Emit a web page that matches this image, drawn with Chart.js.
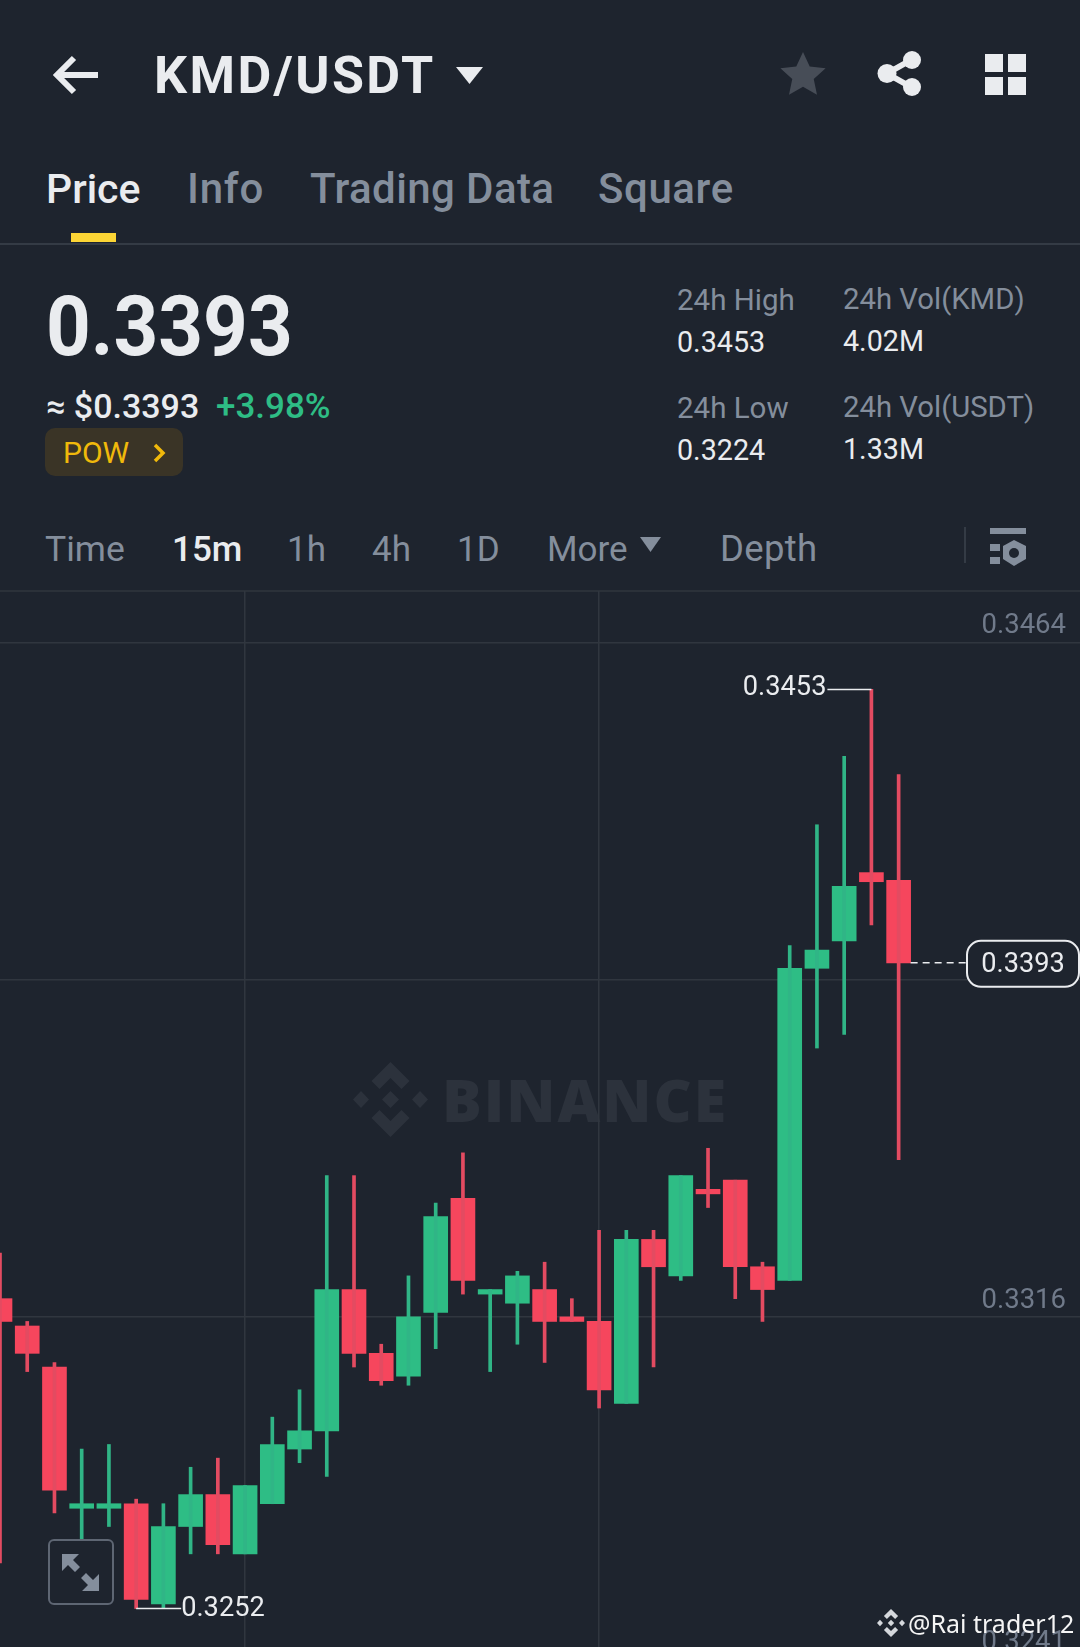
<!DOCTYPE html>
<html><head><meta charset="utf-8">
<script src="https://cdn.jsdelivr.net/npm/chart.js@4"></script>
<style>
html,body{margin:0;padding:0;background:#1e242e;width:1080px;height:1647px;overflow:hidden;font-family:Roboto,sans-serif}
.t{position:absolute;white-space:nowrap;line-height:1;transform:translateY(-50%)}
.g{color:#848e9c}.w{color:#eaecef}
#wrap{position:absolute;left:0;top:591px;width:1080px;height:1100px}
svg{position:absolute;overflow:visible}
.r{position:absolute}
</style></head><body>
<!-- header -->
<svg style="left:52px;top:55px" width="48" height="40" viewBox="0 0 48 40"><path d="M22 3 5 20l17 17M6 20h40" fill="none" stroke="#eaecef" stroke-width="6"/></svg>
<div class="t w" style="left:154px;top:76px;font-size:52px;font-weight:700;letter-spacing:2.400px">KMD/USDT</div>
<svg style="left:455px;top:65px" width="29" height="20"><path d="M1 2h27L14.500 19z" fill="#eaecef"/></svg>
<svg style="left:780px;top:51px" width="46" height="46" viewBox="0 0 24 24"><path d="M12 .5l3.500 7.600 8.300.9-6.200 5.600 1.700 8.200L12 18.600l-7.300 4.200 1.700-8.200L.2 9l8.300-.9z" fill="#474d57"/></svg>
<svg style="left:877px;top:50px" width="45" height="47" viewBox="0 0 45 47"><path d="M34 10 10 23.500 34 37" fill="none" stroke="#eaecef" stroke-width="6"/><circle cx="35" cy="10" r="9" fill="#eaecef"/><circle cx="10" cy="23.500" r="9.500" fill="#eaecef"/><circle cx="35" cy="37" r="9" fill="#eaecef"/></svg>
<svg style="left:985px;top:54px" width="42" height="42"><path d="M0 0h18v18H0zM23 0h18v18H23zM0 23h18v18H0zM23 23h18v18H23z" fill="#eaecef"/></svg>

<div class="t w" style="left:46px;top:189px;font-size:41px;font-weight:500">Price</div>
<div class="t g" style="left:187px;top:189px;font-size:42px;font-weight:500;letter-spacing:.8px">Info</div>
<div class="t g" style="left:310px;top:189px;font-size:42px;font-weight:500;letter-spacing:.4px">Trading Data</div>
<div class="t g" style="left:598px;top:189px;font-size:42px;font-weight:500;letter-spacing:.6px">Square</div>
<div class="r" style="left:71px;top:233px;width:45px;height:9px;background:#fcd535"></div>
<div class="r" style="left:0;top:243px;width:1080px;height:2px;background:#343b45"></div>

<div class="t w" style="left:46px;top:327px;font-size:84px;font-weight:700;transform:translateY(-50%) scaleX(.93);transform-origin:left center">0.3393</div>
<div class="t w" style="left:46px;top:406px;font-size:34px;font-weight:500">≈ $0.3393</div>
<div class="t" style="left:216px;top:406px;font-size:35px;font-weight:500;color:#2ebd85">+3.98%</div>
<div class="r" style="left:45px;top:428px;width:138px;height:48px;background:#3a3426;border-radius:10px"></div>
<div class="t" style="left:63px;top:453px;font-size:30px;color:#f0b90b">POW</div>
<svg style="left:152px;top:442px" width="14" height="22"><path d="M3 3l8 8-8 8" fill="none" stroke="#f0b90b" stroke-width="3.500"/></svg>

<div class="t g" style="left:677px;top:301px;font-size:29.500px">24h High</div>
<div class="t w" style="left:677px;top:342px;font-size:28.700px">0.3453</div>
<div class="t g" style="left:843px;top:300px;font-size:29.300px">24h Vol(KMD)</div>
<div class="t w" style="left:843px;top:341px;font-size:28.700px">4.02M</div>
<div class="t g" style="left:677px;top:409px;font-size:29.500px">24h Low</div>
<div class="t w" style="left:677px;top:450px;font-size:28.700px">0.3224</div>
<div class="t g" style="left:843px;top:408px;font-size:29.300px">24h Vol(USDT)</div>
<div class="t w" style="left:843px;top:449px;font-size:28.700px">1.33M</div>

<div class="t g" style="left:45px;top:550px;font-size:35.500px">Time</div>
<div class="t w" style="left:172px;top:549px;font-size:35px;font-weight:500">15m</div>
<div class="t g" style="left:287px;top:549px;font-size:35px">1h</div>
<div class="t g" style="left:372px;top:549px;font-size:35px">4h</div>
<div class="t g" style="left:457px;top:549px;font-size:35px">1D</div>
<div class="t g" style="left:547px;top:549px;font-size:35px">More</div>
<svg style="left:640px;top:537px" width="21" height="15"><path d="M0 0h21L10.500 15z" fill="#848e9c"/></svg>
<div class="t g" style="left:720px;top:549px;font-size:36.500px;letter-spacing:.3px">Depth</div>
<div class="r" style="left:964px;top:527px;width:2px;height:36px;background:#343b45"></div>
<svg style="left:990px;top:528px" width="36" height="38"><path d="M0 0h36v6H0zM0 16h10v7H0zM0 29h10v7H0z" fill="#848e9c"/><path d="M24 12l12 6v13l-12 7-11-7V18z" fill="#848e9c"/><circle cx="24" cy="25" r="5" fill="#1e242e"/></svg>
<div class="r" style="left:0;top:590px;width:1080px;height:2px;background:#2b3139"></div>

<!-- watermark -->
<svg style="left:353px;top:1062px" width="75" height="75" viewBox="0 0 75 75"><g fill="#2c323c"><path d="M37.500 0l19 19-8 8-11-11-11 11-8-8z"/><path d="M37.500 75l19-19-8-8-11 11-11-11-8 8z"/><path d="M8 29l8 8.500-8 8.500-8-8.500zM67 29l8 8.500-8 8.500-8-8.500zM37.500 29l8.500 8.500-8.500 8.500-8.500-8.500z"/></g></svg>
<div class="t" style="left:442px;top:1099px;font-size:59px;font-weight:800;font-family:'Open Sans';color:#2c323c;letter-spacing:2px">BINANCE</div>

<div id="wrap"><canvas id="c" width="1080" height="1100"></canvas></div>

<!-- expand button -->
<div class="r" style="left:48px;top:1539px;width:62px;height:62px;border:2px solid #5e6673;border-radius:6px;background:#1e242e"></div>
<svg style="left:62px;top:1554px" width="38" height="38"><g fill="#848e9c"><path d="M0 0h17L11 6l7 7-5 5-7-7-6 6z"/><path d="M37 37H20l6-6-7-7 5-5 7 7 6-6z"/></g></svg>

<!-- attribution -->
<svg style="left:877px;top:1609px" width="28" height="28" viewBox="0 0 75 75"><g fill="#d5d8dc"><path d="M37.500 0l19 19-8 8-11-11-11 11-8-8z"/><path d="M37.500 75l19-19-8-8-11 11-11-11-8 8z"/><path d="M8 29l8 8.500-8 8.500-8-8.500zM67 29l8 8.500-8 8.500-8-8.500zM37.500 29l8.500 8.500-8.500 8.500-8.500-8.500z"/></g></svg>
<div class="t" style="left:908px;top:1623px;font-size:25px;font-family:'Noto Sans';color:#f5f5f5">@Rai trader12</div>

<script>
const opens  = [0.3320,0.3314,0.3305,0.3274,0.3274,0.3275,0.3253,0.3270,0.3277,0.3264,0.3275,0.3287,0.3291,0.3322,0.3308,0.3303,0.3317,0.3342,0.3321,0.3319,0.3322,0.3316,0.3315,0.3297,0.3333,0.3325,0.3344,0.3346,0.3327,0.3324,0.33925,0.33985,0.34135,0.34118];
const closes = [0.3315,0.3308,0.3278,0.3275,0.3275,0.3254,0.3270,0.3277,0.3266,0.3279,0.3288,0.3291,0.3322,0.3308,0.3302,0.3316,0.3338,0.3324,0.3322,0.3325,0.3315,0.3315,0.3300,0.3333,0.3327,0.3347,0.3343,0.3327,0.3322,0.33925,0.33965,0.34105,0.34115,0.33937];
const highs  = [0.3330,0.3315,0.3306,0.3287,0.3288,0.3276,0.3275,0.3283,0.3285,0.3279,0.3294,0.3300,0.3347,0.3347,0.3310,0.3325,0.3341,0.3352,0.3322,0.3326,0.3328,0.3320,0.3335,0.3335,0.3335,0.3347,0.3353,0.3346,0.3328,0.33975,0.3424,0.3439,0.34537,0.3435];
const lows   = [0.3262,0.3304,0.3273,0.3258,0.3270,0.3252,0.3252,0.3264,0.3264,0.3264,0.3275,0.3284,0.3281,0.3305,0.3301,0.3301,0.3309,0.3321,0.3304,0.3310,0.3306,0.3315,0.3296,0.3297,0.3305,0.3324,0.3340,0.3320,0.3315,0.3324,0.3375,0.3378,0.3402,0.33505];
const priceTicks = [0.3464,0.3390,0.3316,0.3241];
const priceTickLabels = ['0.3464','0.3390','0.3316','0.3241'];
const timeGridIndexes = [9,22];
const lastPriceLabel = '0.3393', highLabel = '0.3453', lowLabel = '0.3252';
const highMark = 32, lowMark = 5, lastMark = 33;
const GREEN = '#2ebd85', RED = '#f6465d', GREEN_WICK = '#30b586', RED_WICK = '#e34b61', GRID = '#30363f';
const yMax = 0.34753, yMin = 0.32339, xMax = 39.66;

const idx = opens.map((_, i) => i);
const up = idx.map(i => closes[i] >= opens[i]);

const overlay = {
  id: 'overlay',
  afterDatasetsDraw(chart) {
    const {ctx, scales: {x, y}} = chart;
    ctx.save();
    ctx.font = '27.2px Roboto';
    ctx.textBaseline = 'middle';
    ctx.strokeStyle = '#eaecef'; ctx.fillStyle = '#eaecef'; ctx.lineWidth = 1.5;
    // session high
    const hx = x.getPixelForValue(highMark), hy = y.getPixelForValue(highs[highMark]);
    ctx.beginPath(); ctx.moveTo(hx, hy); ctx.lineTo(hx - 44, hy); ctx.stroke();
    ctx.textAlign = 'right'; ctx.fillText(highLabel, hx - 45, hy - 1);
    // session low
    const lx = x.getPixelForValue(lowMark), ly = y.getPixelForValue(lows[lowMark]);
    ctx.beginPath(); ctx.moveTo(lx, ly); ctx.lineTo(lx + 45, ly); ctx.stroke();
    ctx.textAlign = 'left'; ctx.fillText(lowLabel, lx + 45, ly + 1);
    // last price tag
    const ey = y.getPixelForValue(closes[lastMark]), ex = x.getPixelForValue(lastMark) + 12;
    ctx.setLineDash([7, 5]);
    ctx.beginPath(); ctx.moveTo(ex, ey); ctx.lineTo(967, ey); ctx.stroke();
    ctx.setLineDash([]);
    ctx.fillStyle = '#1e242e'; ctx.lineWidth = 2;
    ctx.beginPath(); ctx.roundRect(967, ey - 22, 112, 46, 14); ctx.fill(); ctx.stroke();
    ctx.fillStyle = '#eaecef'; ctx.textAlign = 'center';
    ctx.fillText(lastPriceLabel, 1023, ey + 2);
    ctx.restore();
  }
};

new Chart(document.getElementById('c'), {
  type: 'bar',
  data: { datasets: [
    { label: 'wick', data: idx.map(i => ({x: i, y: [lows[i], highs[i]]})), backgroundColor: up.map(u => u ? GREEN_WICK : RED_WICK), barThickness: 3, grouped: false, borderWidth: 0, borderSkipped: false },
    { label: 'body', data: idx.map(i => ({x: i, y: [opens[i], closes[i]]})), backgroundColor: up.map(u => u ? GREEN : RED), barThickness: 24, grouped: false, borderWidth: 0, borderSkipped: false }
  ]},
  options: {
    responsive: false, animation: false, devicePixelRatio: 1,
    layout: { padding: 0 },
    plugins: { legend: {display: false}, tooltip: {enabled: false} },
    scales: {
      x: { type: 'linear', min: 0, max: xMax, offset: false,
        afterBuildTicks: s => { s.ticks = timeGridIndexes.map(v => ({value: v})); },
        afterFit: s => { s.height = 0; s.paddingLeft = 0; s.paddingRight = 0; },
        grid: { color: GRID, lineWidth: 1.5, drawTicks: false, offset: false }, border: {display: false},
        ticks: { display: false } },
      y: { type: 'linear', position: 'right', min: yMin, max: yMax,
        afterBuildTicks: s => { s.ticks = priceTicks.map(v => ({value: v})); },
        afterFit: s => { s.width = 0; s.paddingTop = 0; s.paddingBottom = 0; },
        grid: { color: GRID, lineWidth: 1.5, drawTicks: false }, border: {display: false},
        ticks: { mirror: true, padding: -14, labelOffset: -16, color: '#707a8a', font: {family: 'Roboto', size: 27.5},
          callback: (v) => priceTickLabels[priceTicks.indexOf(v)] } }
    }
  },
  plugins: [overlay]
});
</script>
</body></html>
